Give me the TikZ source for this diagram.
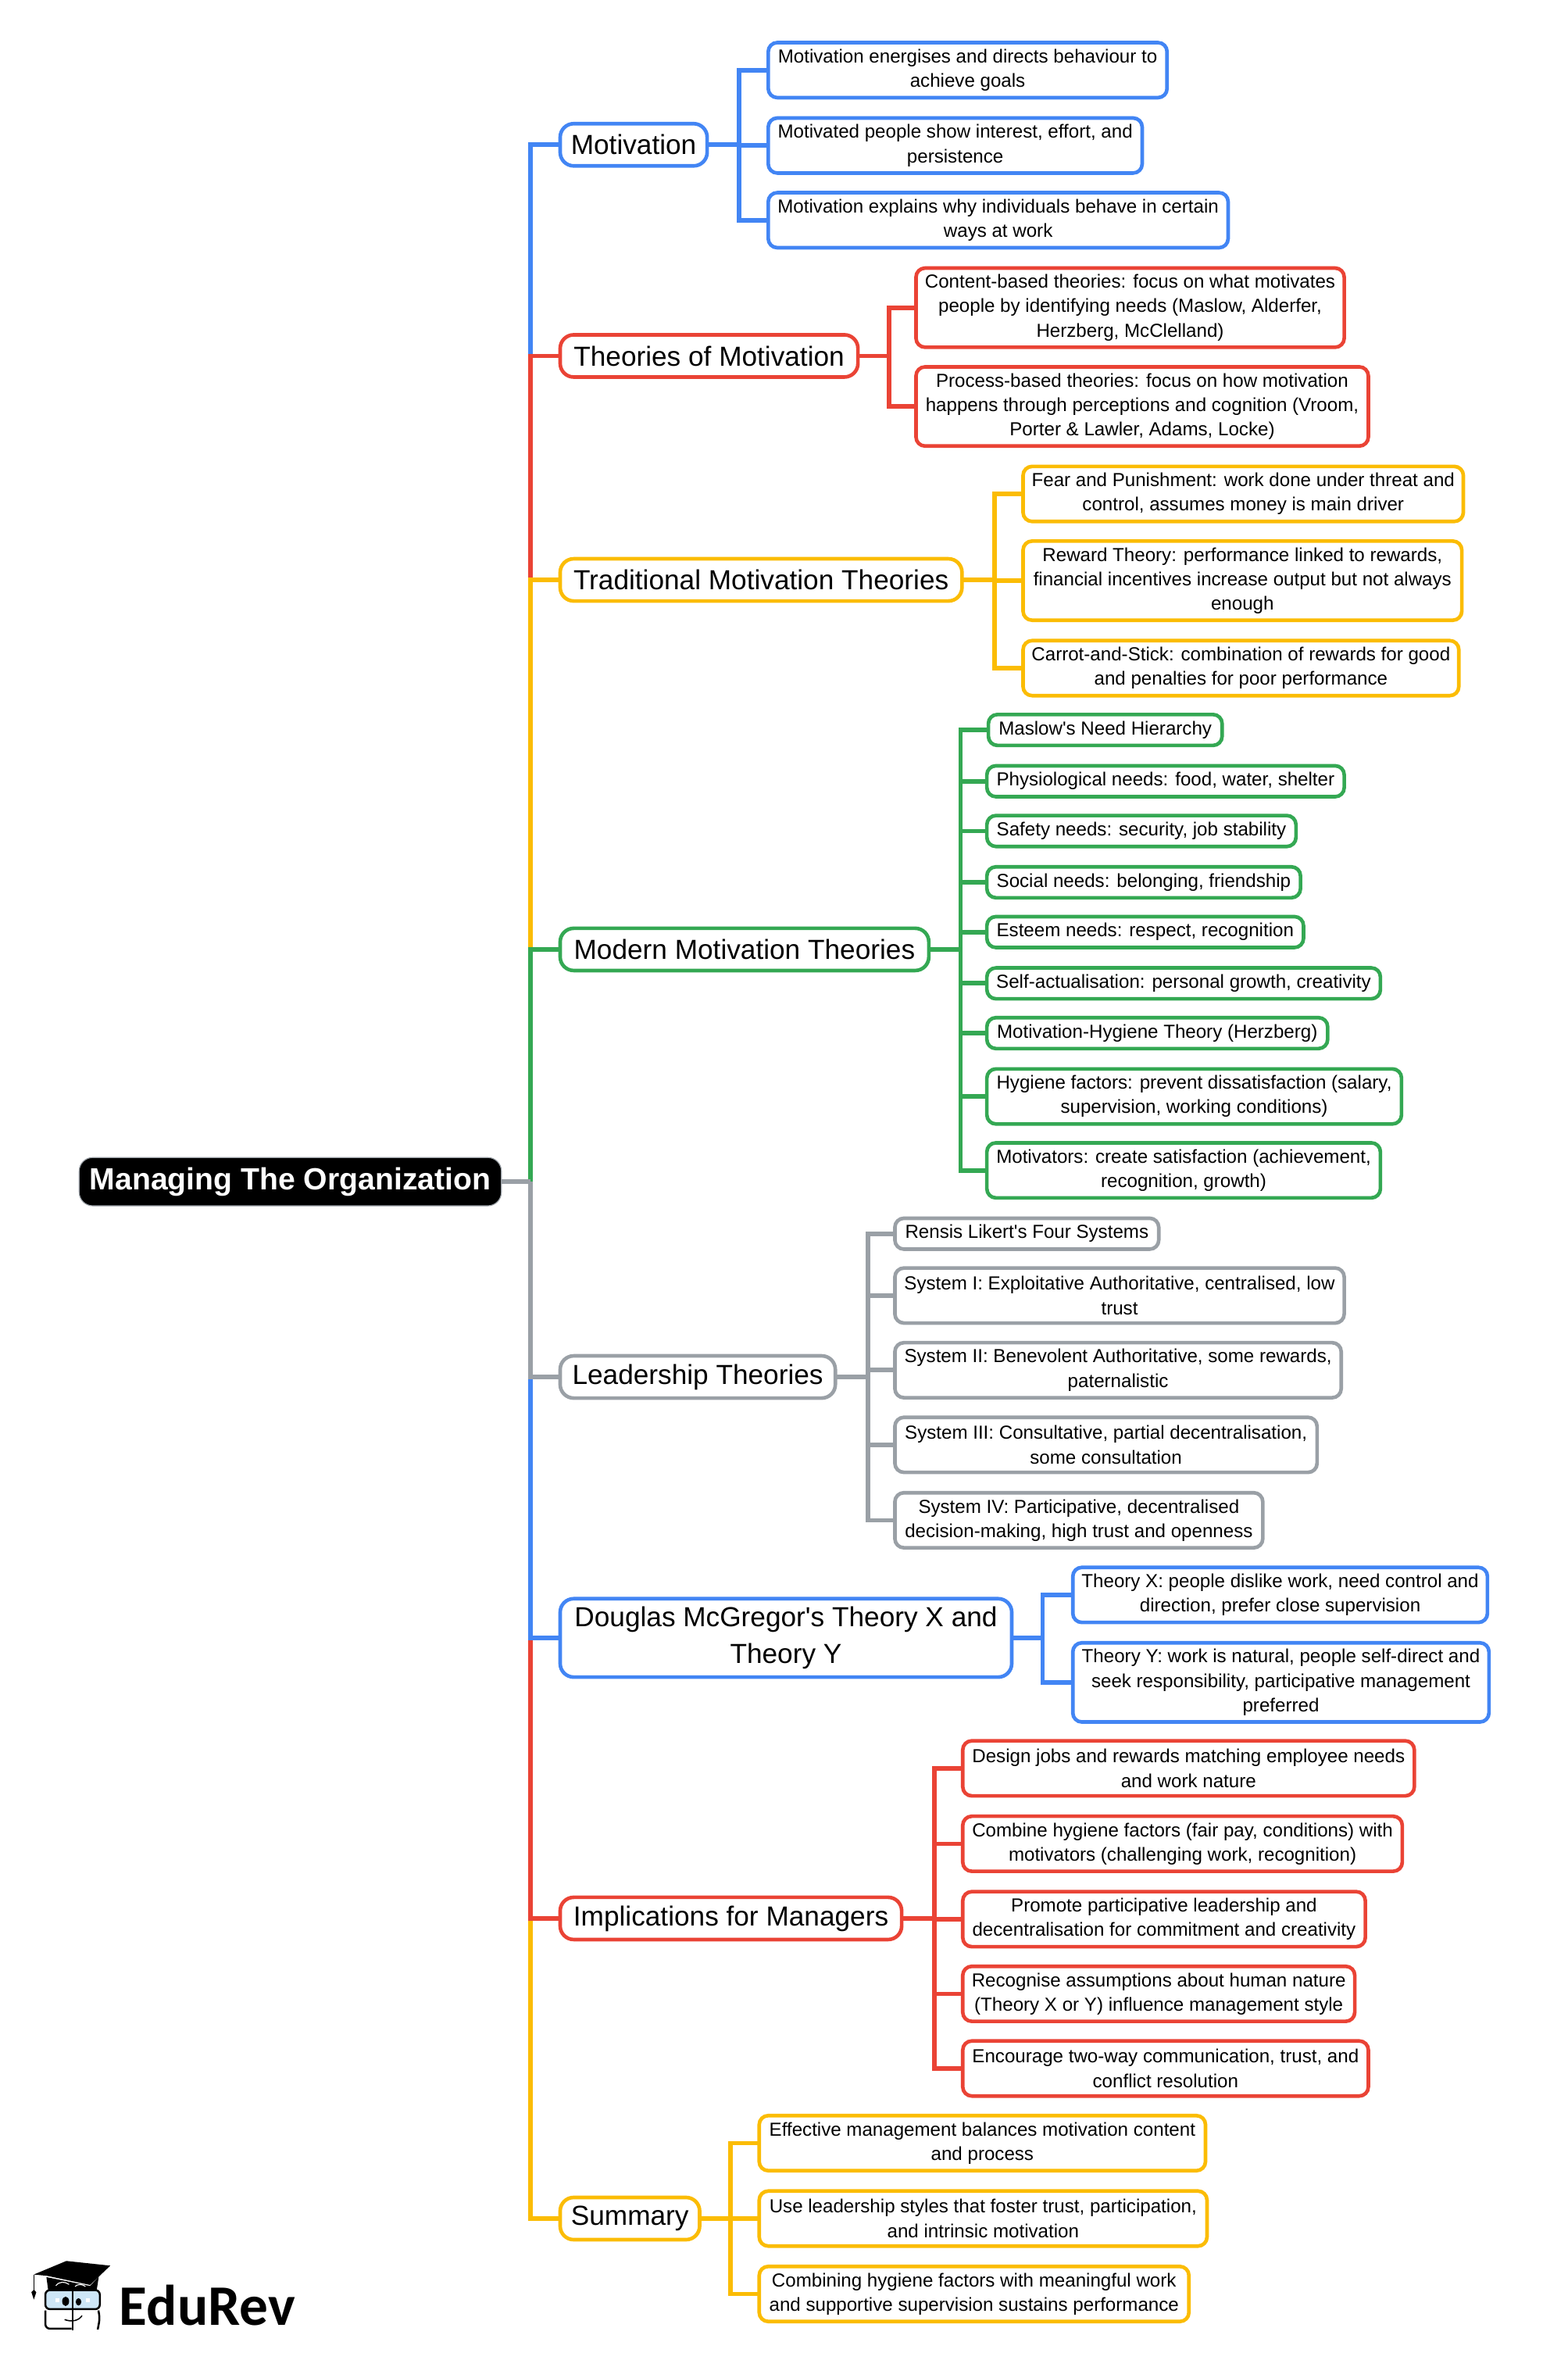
\documentclass[tikz,border=0pt]{standalone}
\usepackage{fontspec}
\newfontfamily\mapfont{Liberation Sans}
\newfontfamily\logofont{Carlito}
\definecolor{mblue}{HTML}{4285F4}
\definecolor{mred}{HTML}{EA4335}
\definecolor{myellow}{HTML}{FBBC04}
\definecolor{mgreen}{HTML}{34A853}
\definecolor{mgrey}{HTML}{9AA0A6}
\definecolor{mglass}{HTML}{CDE6F7}
\tikzset{
  rootbox/.style={draw=mgrey,line width=0.6pt,fill=black,text=white,rounded corners=9pt,inner sep=0pt,outer sep=0pt,
    anchor=west,minimum height=32,font=\mapfont\bfseries\fontsize{20.3}{25}\selectfont},
  mainbox/.style={draw=#1,fill=white,line width=2.4pt,rounded corners=9pt,inner sep=0pt,outer sep=0pt,anchor=west,
    align=center,minimum height=28,font=\mapfont\fontsize{18.25}{24}\selectfont},
  leafbox/.style={draw=#1,fill=white,line width=2.4pt,rounded corners=6pt,inner sep=0pt,outer sep=0pt,anchor=west,
    align=center,font=\mapfont\fontsize{12.5}{16.2}\selectfont},
  lineone/.style={minimum height=20.5},
  linetwo/.style={minimum height=36.5},
  linethree/.style={minimum height=52.5},
  conn/.style={draw=#1,line width=3pt,line cap=butt}
}
\begin{document}
\begin{tikzpicture}[x=1pt,y=-1pt]
\useasboundingbox (0,0) rectangle (1039.4,1564.8);

% connectors
\coordinate (trunk) at (352,783.5);
\coordinate (busmot) at (490,96);
\coordinate (busthe) at (589.5,236);
\coordinate (bustra) at (659.5,384.5);
\coordinate (busmod) at (637,629.5);
\coordinate (buslea) at (575.5,913);
\coordinate (busdou) at (691.5,1086);
\coordinate (busimp) at (619.5,1272);
\coordinate (bussum) at (484.5,1471);

% main topics
\node[rootbox,minimum width=280] (root) at (52.5,783.5) {Managing The Organization};
\node[mainbox=mblue,minimum width=97.5] (mot) at (371.5,96) {Motivation};
\node[mainbox=mred,minimum width=197.5] (the) at (371.5,236) {Theories of Motivation};
\node[mainbox=myellow,minimum width=266.5] (tra) at (371.5,384.5) {Traditional Motivation Theories};
\node[mainbox=mgreen,minimum width=244.5] (mod) at (371.5,629.5) {Modern Motivation Theories};
\node[mainbox=mgrey,minimum width=182.5] (lea) at (371.5,913) {Leadership Theories};
\node[mainbox=mblue,minimum width=299.5,minimum height=52] (dou) at (371.5,1086) {Douglas McGregor's Theory X and\\Theory Y};
\node[mainbox=mred,minimum width=226.5] (imp) at (371.5,1272) {Implications for Managers};
\node[mainbox=myellow,minimum width=92.5] (sum) at (371.5,1471) {Summary};

% motivation
\node[leafbox=mblue,linetwo,minimum width=264.5] (mota) at (509.5,46.5) {Motivation energises and directs behaviour to\\achieve goals};
\node[leafbox=mblue,linetwo,minimum width=248] (motb) at (509.5,96.5) {Motivated people show interest, effort, and\\persistence};
\node[leafbox=mblue,linetwo,minimum width=305] (motc) at (509.5,146) {Motivation explains why individuals behave in certain\\ways at work};

% theories of motivation
\node[leafbox=mred,linethree,minimum width=284] (thea) at (607.5,204) {Content-based theories: focus on what motivates\\people by identifying needs (Maslow, Alderfer,\\Herzberg, McClelland)};
\node[leafbox=mred,linethree,minimum width=300] (theb) at (607.5,269.5) {Process-based theories: focus on how motivation\\happens through perceptions and cognition (Vroom,\\Porter \& Lawler, Adams, Locke)};

% traditional
\node[leafbox=myellow,linetwo,minimum width=292] (traa) at (678.5,327.5) {Fear and Punishment: work done under threat and\\control, assumes money is main driver};
\node[leafbox=myellow,linethree,minimum width=291] (trab) at (678.5,385) {Reward Theory: performance linked to rewards,\\financial incentives increase output but not always\\enough};
\node[leafbox=myellow,linetwo,minimum width=289] (trac) at (678.5,443) {Carrot-and-Stick: combination of rewards for good\\and penalties for poor performance};

% modern
\node[leafbox=mgreen,lineone,minimum width=155] (moda) at (655.5,484) {Maslow's Need Hierarchy};
\node[leafbox=mgreen,lineone,minimum width=237] (modb) at (654.5,518) {Physiological needs: food, water, shelter};
\node[leafbox=mgreen,lineone,minimum width=205] (modc) at (654.5,551) {Safety needs: security, job stability};
\node[leafbox=mgreen,lineone,minimum width=208] (modd) at (654.5,585) {Social needs: belonging, friendship};
\node[leafbox=mgreen,lineone,minimum width=210] (mode) at (654.5,618) {Esteem needs: respect, recognition};
\node[leafbox=mgreen,lineone,minimum width=261] (modf) at (654.5,652) {Self-actualisation: personal growth, creativity};
\node[leafbox=mgreen,lineone,minimum width=226] (modg) at (654.5,685) {Motivation-Hygiene Theory (Herzberg)};
\node[leafbox=mgreen,linetwo,minimum width=275] (modh) at (654.5,727) {Hygiene factors: prevent dissatisfaction (salary,\\supervision, working conditions)};
\node[leafbox=mgreen,linetwo,minimum width=261] (modi) at (654.5,776) {Motivators: create satisfaction (achievement,\\recognition, growth)};

% leadership
\node[leafbox=mgrey,lineone,minimum width=175] (leaa) at (593.5,818) {Rensis Likert's Four Systems};
\node[leafbox=mgrey,linetwo,minimum width=298] (leab) at (593.5,859) {System I: Exploitative Authoritative, centralised, low\\trust};
\node[leafbox=mgrey,linetwo,minimum width=296] (leac) at (593.5,908.5) {System II: Benevolent Authoritative, some rewards,\\paternalistic};
\node[leafbox=mgrey,linetwo,minimum width=280] (lead) at (593.5,958) {System III: Consultative, partial decentralisation,\\some consultation};
\node[leafbox=mgrey,linetwo,minimum width=244] (leae) at (593.5,1008) {System IV: Participative, decentralised\\decision-making, high trust and openness};

% theory x and y
\node[leafbox=mblue,linetwo,minimum width=275] (doua) at (711.5,1057.5) {Theory X: people dislike work, need control and\\direction, prefer close supervision};
\node[leafbox=mblue,linethree,minimum width=276] (doub) at (711.5,1115.5) {Theory Y: work is natural, people self-direct and\\seek responsibility, participative management\\preferred};

% implications
\node[leafbox=mred,linetwo,minimum width=299.5] (impa) at (638.5,1172.5) {Design jobs and rewards matching employee needs\\and work nature};
\node[leafbox=mred,linetwo,minimum width=291.5] (impb) at (638.5,1222.5) {Combine hygiene factors (fair pay, conditions) with\\motivators (challenging work, recognition)};
\node[leafbox=mred,linetwo,minimum width=267] (impc) at (638.5,1272.5) {Promote participative leadership and\\decentralisation for commitment and creativity};
\node[leafbox=mred,linetwo,minimum width=260] (impd) at (638.5,1322) {Recognise assumptions about human nature\\(Theory X or Y) influence management style};
\node[leafbox=mred,linetwo,minimum width=269] (impe) at (638.5,1371.5) {Encourage two-way communication, trust, and\\conflict resolution};

% summary
\node[leafbox=myellow,linetwo,minimum width=296] (suma) at (503.5,1421) {Effective management balances motivation content\\and process};
\node[leafbox=myellow,linetwo,minimum width=297] (sumb) at (503.5,1471) {Use leadership styles that foster trust, participation,\\and intrinsic motivation};
\node[leafbox=myellow,linetwo,minimum width=285] (sumc) at (503.5,1521) {Combining hygiene factors with meaningful work\\and supportive supervision sustains performance};

% trunk, far branches first
\draw[conn=mblue] (trunk) |- (mot.west);
\draw[conn=mred] (trunk) |- (the.west);
\draw[conn=myellow] (trunk) |- (tra.west);
\draw[conn=mgreen] (trunk) |- (mod.west);
\draw[conn=myellow] (trunk) |- (sum.west);
\draw[conn=mred] (trunk) |- (imp.west);
\draw[conn=mblue] (trunk) |- (dou.west);
\draw[conn=mgrey] (trunk) |- (lea.west);
\draw[conn=mgrey] (root.east) -- (trunk);

% branches
\draw[conn=mblue] (mot.east) -- (busmot);
\foreach \n in {mota,motb,motc} \draw[conn=mblue] (busmot) |- (\n.west);
\draw[conn=mred] (the.east) -- (busthe);
\foreach \n in {thea,theb} \draw[conn=mred] (busthe) |- (\n.west);
\draw[conn=myellow] (tra.east) -- (bustra);
\foreach \n in {traa,trab,trac} \draw[conn=myellow] (bustra) |- (\n.west);
\draw[conn=mgreen] (mod.east) -- (busmod);
\foreach \n in {moda,modb,modc,modd,mode,modf,modg,modh,modi} \draw[conn=mgreen] (busmod) |- (\n.west);
\draw[conn=mgrey] (lea.east) -- (buslea);
\foreach \n in {leaa,leab,leac,lead,leae} \draw[conn=mgrey] (buslea) |- (\n.west);
\draw[conn=mblue] (dou.east) -- (busdou);
\foreach \n in {doua,doub} \draw[conn=mblue] (busdou) |- (\n.west);
\draw[conn=mred] (imp.east) -- (busimp);
\foreach \n in {impa,impb,impc,impd,impe} \draw[conn=mred] (busimp) |- (\n.west);
\draw[conn=myellow] (sum.east) -- (bussum);
\foreach \n in {suma,sumb,sumc} \draw[conn=myellow] (bussum) |- (\n.west);

% logo
\node[anchor=base west,inner sep=0pt,font=\logofont\bfseries\fontsize{38}{38}\selectfont] (edurev) at (79,1541.5) {EduRev};
\begin{scope}[shift={(0,1440.4)},x=0.2315pt,y=-0.1727pt]
\fill (97,392) -- (190,340) -- (316,358) -- (258,432) -- (135,397) -- cycle;
\fill (133,402) -- (258,436) -- (283,400) -- (277,452) -- (138,452) -- cycle;
\draw[line width=0.6pt] (97,392) -- (97,455);
\fill (90,460) -- (97,450) -- (104,460) -- (97,488) -- cycle;
\draw[white,line width=0.6pt] (160,435) .. controls (170,418) and (185,418) .. (198,430);
\draw[white,line width=0.6pt] (215,438) .. controls (222,428) and (235,428) .. (245,438);
\draw[fill=mglass,line width=1.3pt,rounded corners=3pt] (130,452) rectangle (286,525);
\draw[line width=1.3pt,rounded corners=3pt] (130,530) -- (130,600) -- (205,600);
\draw[line width=1.3pt,rounded corners=3pt] (282,530) -- (286,560) -- (280,603);
\draw[line width=1.3pt] (208,450) -- (208,605);
\fill (188,495) ellipse [x radius=10,y radius=18];
\fill (225,497) ellipse [x radius=8,y radius=14];
\fill[white] (160,484) rectangle (170,498);
\fill[white] (246,484) rectangle (258,498);
\draw[line width=0.8pt] (185,565) .. controls (205,575) and (225,570) .. (235,550);
\end{scope}
\end{tikzpicture}
\end{document}
